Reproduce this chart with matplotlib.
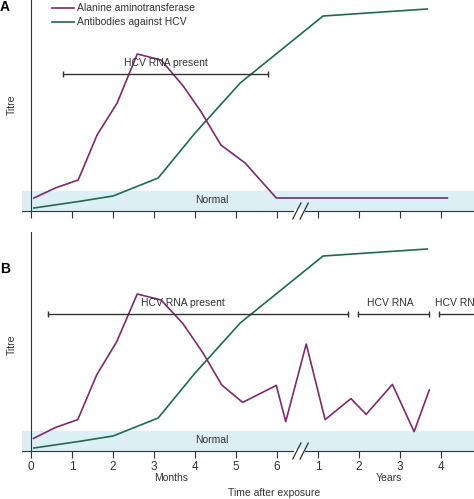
import matplotlib.pyplot as plt
import numpy as np

plt.rcParams['font.family'] = ['Liberation Sans', 'DejaVu Sans']

PURPLE = "#7d2a6f"
GREEN = "#1e6b4e"
BAND = "#dbeff4"
DARK = "#333333"
FS = 7

# x positions: 0-6 months, then 7..10 = years 1..4
tick_pos = [0, 1, 2, 3, 4, 5, 6, 7, 8, 9, 10]
tick_labels = ["0", "1", "2", "3", "4", "5", "6", "1", "2", "3", "4"]

alt_a_x = [0.07, 0.59, 1.15, 1.61, 2.10, 2.59, 3.17, 3.71, 4.15, 4.63, 5.22, 5.98, 10.15]
alt_a_y = [6.5, 11.5, 15.5, 38, 54, 78.5, 75.5, 62.5, 49.5, 33, 24, 6.5, 6.5]

alt_b_x = [0.06, 0.59, 1.14, 1.6, 2.09, 2.59, 3.17, 3.7, 4.2, 4.65, 5.16, 5.98, 6.21,
           6.71, 7.17, 7.8, 8.17, 8.81, 9.34, 9.71]
alt_b_y = [6.3, 11.7, 15.7, 38, 54.7, 78.5, 75.5, 63.8, 48.8, 33, 24.3, 32.8, 14.7,
           53.5, 15.7, 26.2, 18.3, 33.3, 9.7, 30.5]

ab_x = [0.07, 1.24, 2.0, 3.1, 4.0, 5.1, 7.12, 9.66]
ab_y = [1.5, 5, 7.5, 16.5, 39, 64, 97.5, 101]

normal_top = 10
rna_a = [(0.78, 5.78, "HCV RNA present", 3.28, "center")]
rna_b = [(0.42, 7.74, "HCV RNA present", 3.7, "center"),
         (7.97, 9.71, "HCV RNA", 8.76, "center"),
         (9.94, 12.0, "HCV RNA", 9.86, "left")]
rna_y = 68.7

fig = plt.figure(figsize=(4.74, 4.99), dpi=100)
axA = fig.add_axes([22/474, 1-222/499, 452/474, 222/499])
axB = fig.add_axes([22/474, 29/499, 452/474, 238/499])

def panel(ax, alt_x, alt_y, bars, ymin, ymax, labels):
    ax.set_xlim(-0.22, 10.8)
    ax.set_ylim(ymin, ymax)
    ax.axhspan(0, normal_top, color=BAND, zorder=0)
    ax.text(4.4, 5.5, "Normal", ha="center", va="center", fontsize=FS + 0.5, color=DARK)
    ax.plot(ab_x, ab_y, color=GREEN, lw=1.2)
    ax.plot(alt_x, alt_y, color=PURPLE, lw=1.2)
    for x0, x1, txt, tx, ha in bars:
        ax.plot([x0, x1], [rna_y, rna_y], color=DARK, lw=1, marker="|", ms=5, mew=1, clip_on=True)
        ax.text(tx, rna_y + 3, txt, ha=ha, va="bottom", fontsize=FS + 0.5, color=DARK, clip_on=True)
    for s in ["top", "right"]:
        ax.spines[s].set_visible(False)
    ax.spines["left"].set_position(("data", 0))
    ax.spines["bottom"].set_position(("data", 0))
    ax.spines["left"].set_bounds(0, ymax)
    for s in ["left", "bottom"]:
        ax.spines[s].set_color(DARK)
    ax.set_yticks([])
    ax.set_xticks(tick_pos)
    ax.tick_params(axis="x", direction="out", length=5, color=DARK, labelsize=8.5,
                   labelcolor=DARK, pad=2)
    ax.set_xticklabels(tick_labels if labels else [])
    # axis break
    ax.plot([6.42, 6.68], [0, 0], color="white", lw=3, solid_capstyle="butt", clip_on=False, zorder=5)
    for dx in (6.38, 6.56):
        ax.plot([dx, dx + 0.2], [-4, 4], color=DARK, lw=0.9, clip_on=False, zorder=6)

panel(axA, alt_a_x, alt_a_y, rna_a, -5.5, 105.5, False)
panel(axB, alt_b_x, alt_b_y, rna_b, -9.5, 109.5, True)

axA.plot([0.5, 1.05], [101.5, 101.5], color=PURPLE, lw=1.2)
axA.text(1.12, 101.5, "Alanine aminotransferase", va="center", fontsize=FS + 0.5, color=DARK)
axA.plot([0.5, 1.05], [94.5, 94.5], color=GREEN, lw=1.2)
axA.text(1.12, 94.5, "Antibodies against HCV", va="center", fontsize=FS + 0.5, color=DARK)

fig.text(0, 1, "A", fontsize=10, fontweight="bold", va="top", ha="left")
fig.text(0, 1-262/499, "B", fontsize=10, fontweight="bold", va="top", ha="left")
fig.text(12/474, 1-105/499, "Titre", rotation=90, fontsize=FS + 0.5, ha="center", va="center", color=DARK)
fig.text(12/474, 1-345/499, "Titre", rotation=90, fontsize=FS + 0.5, ha="center", va="center", color=DARK)
fig.text(171/474, 1-478/499, "Months", fontsize=FS + 0.5, ha="center", va="center", color=DARK)
fig.text(389/474, 1-478/499, "Years", fontsize=FS + 0.5, ha="center", va="center", color=DARK)
fig.text(274/474, 1-493/499, "Time after exposure", fontsize=FS + 0.5, ha="center", va="center", color=DARK)

fig.savefig("out.png", dpi=100)
